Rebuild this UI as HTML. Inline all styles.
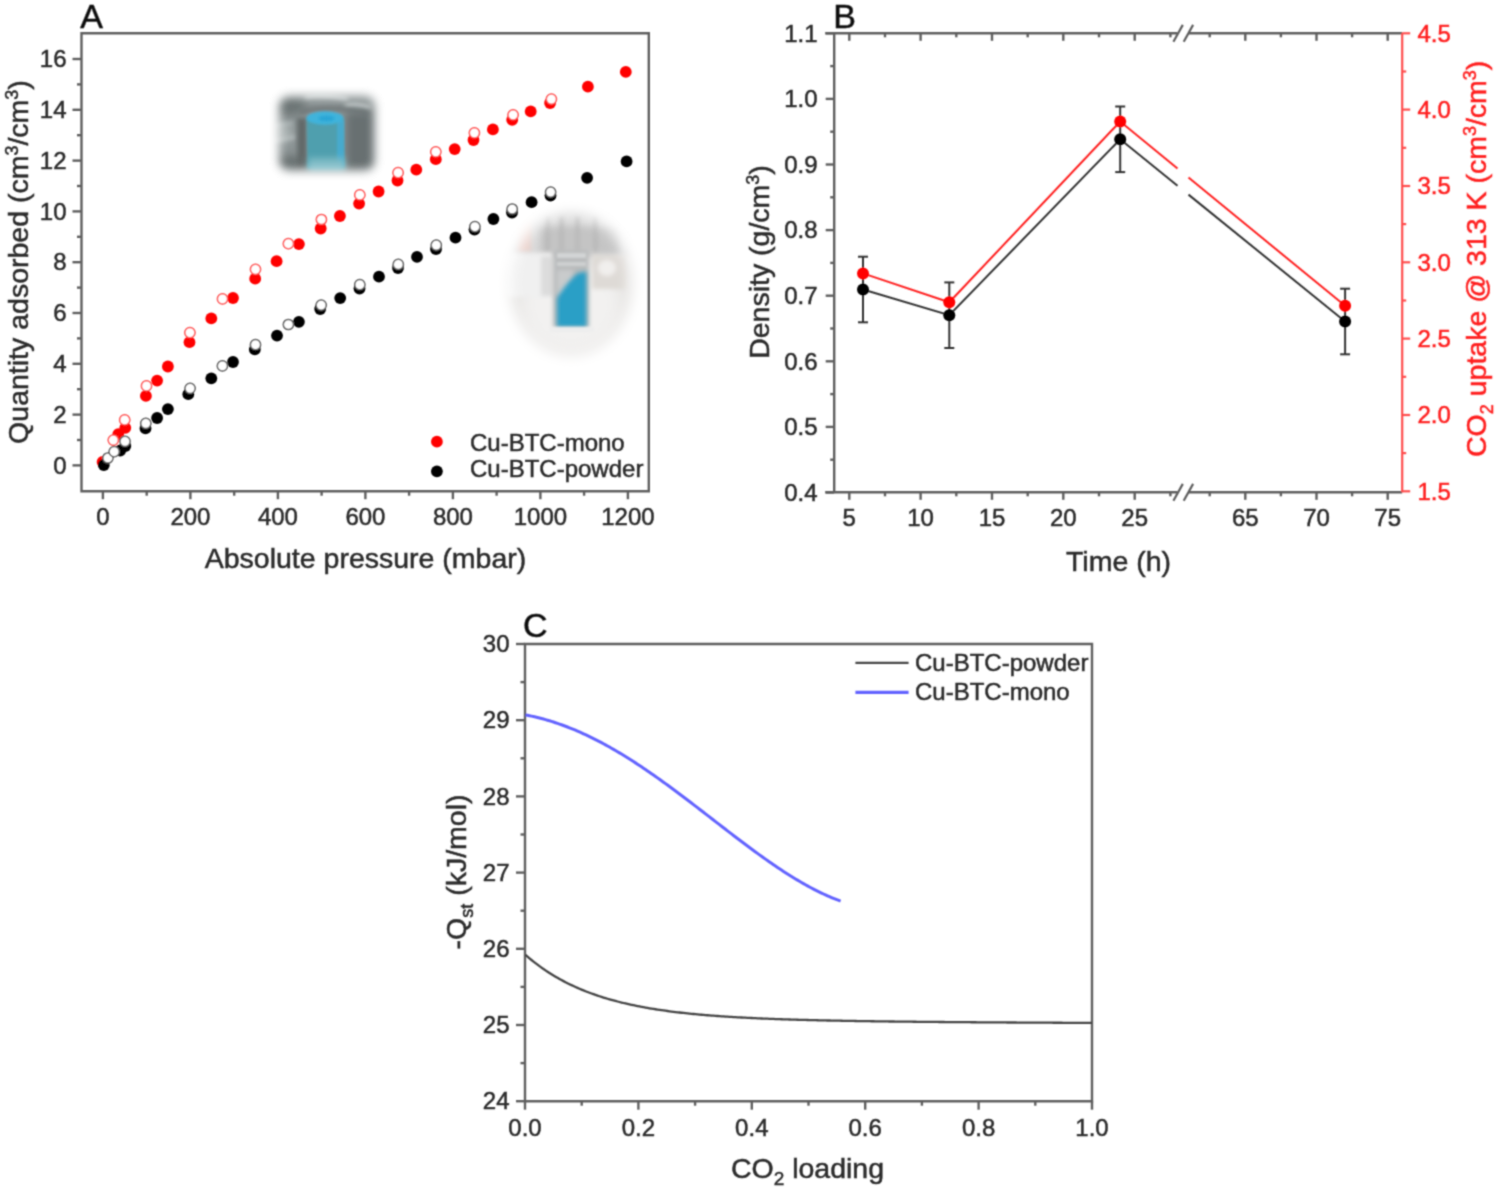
<!DOCTYPE html>
<html><head><meta charset="utf-8"><title>Figure</title>
<style>
html,body{margin:0;padding:0;background:#fff;}
body{width:1495px;height:1189px;overflow:hidden;}
svg{display:block;font-family:"Liberation Sans",sans-serif;}
</style></head>
<body>
<svg width="1495" height="1189" viewBox="0 0 1495 1189">
<defs><filter id="gb" filterUnits="userSpaceOnUse" x="0" y="0" width="1495" height="1189"><feConvolveMatrix order="3" kernelMatrix="0.04387 0.12171 0.04387 0.12171 0.33767 0.12171 0.04387 0.12171 0.04387" divisor="1" edgeMode="duplicate" preserveAlpha="false"/></filter></defs>
<rect width="1495" height="1189" fill="#fff"/>
<g filter="url(#gb)">
<path d="M81.5,33.2 H648.8 V491.2 H81.5 Z" fill="none" stroke="#5f5f5f" stroke-width="2.4" stroke-linejoin="miter"/>
<line x1="102.9" y1="491.2" x2="102.9" y2="499.2" stroke="#5f5f5f" stroke-width="2.4" />
<text x="102.9" y="525.4" font-size="24" text-anchor="middle" fill="#2b2b2b" stroke="#2b2b2b" stroke-width="0.5" >0</text>
<line x1="146.7" y1="491.2" x2="146.7" y2="495.7" stroke="#5f5f5f" stroke-width="2.4" />
<line x1="190.4" y1="491.2" x2="190.4" y2="499.2" stroke="#5f5f5f" stroke-width="2.4" />
<text x="190.4" y="525.4" font-size="24" text-anchor="middle" fill="#2b2b2b" stroke="#2b2b2b" stroke-width="0.5" >200</text>
<line x1="234.2" y1="491.2" x2="234.2" y2="495.7" stroke="#5f5f5f" stroke-width="2.4" />
<line x1="277.9" y1="491.2" x2="277.9" y2="499.2" stroke="#5f5f5f" stroke-width="2.4" />
<text x="277.9" y="525.4" font-size="24" text-anchor="middle" fill="#2b2b2b" stroke="#2b2b2b" stroke-width="0.5" >400</text>
<line x1="321.6" y1="491.2" x2="321.6" y2="495.7" stroke="#5f5f5f" stroke-width="2.4" />
<line x1="365.4" y1="491.2" x2="365.4" y2="499.2" stroke="#5f5f5f" stroke-width="2.4" />
<text x="365.4" y="525.4" font-size="24" text-anchor="middle" fill="#2b2b2b" stroke="#2b2b2b" stroke-width="0.5" >600</text>
<line x1="409.1" y1="491.2" x2="409.1" y2="495.7" stroke="#5f5f5f" stroke-width="2.4" />
<line x1="452.9" y1="491.2" x2="452.9" y2="499.2" stroke="#5f5f5f" stroke-width="2.4" />
<text x="452.9" y="525.4" font-size="24" text-anchor="middle" fill="#2b2b2b" stroke="#2b2b2b" stroke-width="0.5" >800</text>
<line x1="496.6" y1="491.2" x2="496.6" y2="495.7" stroke="#5f5f5f" stroke-width="2.4" />
<line x1="540.4" y1="491.2" x2="540.4" y2="499.2" stroke="#5f5f5f" stroke-width="2.4" />
<text x="540.4" y="525.4" font-size="24" text-anchor="middle" fill="#2b2b2b" stroke="#2b2b2b" stroke-width="0.5" >1000</text>
<line x1="584.1" y1="491.2" x2="584.1" y2="495.7" stroke="#5f5f5f" stroke-width="2.4" />
<line x1="627.9" y1="491.2" x2="627.9" y2="499.2" stroke="#5f5f5f" stroke-width="2.4" />
<text x="627.9" y="525.4" font-size="24" text-anchor="middle" fill="#2b2b2b" stroke="#2b2b2b" stroke-width="0.5" >1200</text>
<line x1="72.5" y1="465.4" x2="81.5" y2="465.4" stroke="#5f5f5f" stroke-width="2.4" />
<text x="66.5" y="473.6" font-size="24" text-anchor="end" fill="#2b2b2b" stroke="#2b2b2b" stroke-width="0.5" >0</text>
<line x1="77.0" y1="440.0" x2="81.5" y2="440.0" stroke="#5f5f5f" stroke-width="2.4" />
<line x1="72.5" y1="414.6" x2="81.5" y2="414.6" stroke="#5f5f5f" stroke-width="2.4" />
<text x="66.5" y="422.8" font-size="24" text-anchor="end" fill="#2b2b2b" stroke="#2b2b2b" stroke-width="0.5" >2</text>
<line x1="77.0" y1="389.2" x2="81.5" y2="389.2" stroke="#5f5f5f" stroke-width="2.4" />
<line x1="72.5" y1="363.8" x2="81.5" y2="363.8" stroke="#5f5f5f" stroke-width="2.4" />
<text x="66.5" y="372.0" font-size="24" text-anchor="end" fill="#2b2b2b" stroke="#2b2b2b" stroke-width="0.5" >4</text>
<line x1="77.0" y1="338.4" x2="81.5" y2="338.4" stroke="#5f5f5f" stroke-width="2.4" />
<line x1="72.5" y1="313.0" x2="81.5" y2="313.0" stroke="#5f5f5f" stroke-width="2.4" />
<text x="66.5" y="321.2" font-size="24" text-anchor="end" fill="#2b2b2b" stroke="#2b2b2b" stroke-width="0.5" >6</text>
<line x1="77.0" y1="287.6" x2="81.5" y2="287.6" stroke="#5f5f5f" stroke-width="2.4" />
<line x1="72.5" y1="262.2" x2="81.5" y2="262.2" stroke="#5f5f5f" stroke-width="2.4" />
<text x="66.5" y="270.4" font-size="24" text-anchor="end" fill="#2b2b2b" stroke="#2b2b2b" stroke-width="0.5" >8</text>
<line x1="77.0" y1="236.8" x2="81.5" y2="236.8" stroke="#5f5f5f" stroke-width="2.4" />
<line x1="72.5" y1="211.4" x2="81.5" y2="211.4" stroke="#5f5f5f" stroke-width="2.4" />
<text x="66.5" y="219.6" font-size="24" text-anchor="end" fill="#2b2b2b" stroke="#2b2b2b" stroke-width="0.5" >10</text>
<line x1="77.0" y1="186.0" x2="81.5" y2="186.0" stroke="#5f5f5f" stroke-width="2.4" />
<line x1="72.5" y1="160.6" x2="81.5" y2="160.6" stroke="#5f5f5f" stroke-width="2.4" />
<text x="66.5" y="168.8" font-size="24" text-anchor="end" fill="#2b2b2b" stroke="#2b2b2b" stroke-width="0.5" >12</text>
<line x1="77.0" y1="135.2" x2="81.5" y2="135.2" stroke="#5f5f5f" stroke-width="2.4" />
<line x1="72.5" y1="109.8" x2="81.5" y2="109.8" stroke="#5f5f5f" stroke-width="2.4" />
<text x="66.5" y="118.0" font-size="24" text-anchor="end" fill="#2b2b2b" stroke="#2b2b2b" stroke-width="0.5" >14</text>
<line x1="77.0" y1="84.4" x2="81.5" y2="84.4" stroke="#5f5f5f" stroke-width="2.4" />
<line x1="72.5" y1="59.0" x2="81.5" y2="59.0" stroke="#5f5f5f" stroke-width="2.4" />
<text x="66.5" y="67.2" font-size="24" text-anchor="end" fill="#2b2b2b" stroke="#2b2b2b" stroke-width="0.5" >16</text>
<text x="365.5" y="567.6" font-size="28.5" text-anchor="middle" fill="#2b2b2b" stroke="#2b2b2b" stroke-width="0.5" >Absolute pressure (mbar)</text>
<text transform="translate(28.3,262) rotate(-90)" font-size="28.5" text-anchor="middle" fill="#2b2b2b" stroke="#2b2b2b" stroke-width="0.5">Quantity adsorbed (cm<tspan dy="-10" font-size="18">3</tspan><tspan dy="10">/cm</tspan><tspan dy="-10" font-size="18">3</tspan><tspan dy="10">)</tspan></text>
<text x="80.3" y="27.5" font-size="34" text-anchor="start" fill="#111" stroke="#111" stroke-width="0.5" >A</text>
<defs><filter id="b1" filterUnits="userSpaceOnUse" x="200" y="50" width="500" height="360"><feGaussianBlur stdDeviation="4"/></filter><filter id="b2" filterUnits="userSpaceOnUse" x="200" y="50" width="500" height="360"><feGaussianBlur stdDeviation="2"/></filter><filter id="b3" filterUnits="userSpaceOnUse" x="200" y="50" width="500" height="360"><feGaussianBlur stdDeviation="1.1"/></filter><filter id="b4" filterUnits="userSpaceOnUse" x="200" y="50" width="500" height="360"><feGaussianBlur stdDeviation="9"/></filter><filter id="b5" filterUnits="userSpaceOnUse" x="200" y="50" width="500" height="360"><feGaussianBlur stdDeviation="3"/></filter><filter id="b6" filterUnits="userSpaceOnUse" x="200" y="50" width="500" height="360"><feGaussianBlur stdDeviation="7"/></filter><filter id="b7" filterUnits="userSpaceOnUse" x="200" y="50" width="500" height="360"><feGaussianBlur stdDeviation="5"/></filter><mask id="m1" maskUnits="userSpaceOnUse" x="250" y="70" width="150" height="130"><rect x="279" y="96" width="96" height="75" rx="10" fill="#fff" filter="url(#b7)"/></mask><mask id="m2" maskUnits="userSpaceOnUse" x="480" y="190" width="180" height="190"><ellipse cx="571" cy="284" rx="60" ry="70" fill="#fff" filter="url(#b6)"/></mask></defs>
<g mask="url(#m1)">
<rect x="265" y="85" width="120" height="95" fill="#8b9394"/>
<ellipse cx="290" cy="106" rx="16" ry="9" fill="#6c7474" filter="url(#b1)"/>
<ellipse cx="292" cy="163" rx="20" ry="7" fill="#687070" filter="url(#b1)"/>
<ellipse cx="283" cy="133" rx="10" ry="10" fill="#aab2b2" filter="url(#b1)"/>
<path d="M272,141 L296,137" stroke="#c8d0d0" stroke-width="2" filter="url(#b2)"/>
<path d="M274,126 L293,123" stroke="#c0c8c8" stroke-width="2" filter="url(#b2)"/>
<path d="M305,97 Q325,94 348,99" stroke="#c8d0d0" stroke-width="3" fill="none" filter="url(#b2)"/>
<path d="M345,106 Q358,103 370,108" stroke="#dce2e2" stroke-width="2.5" fill="none" filter="url(#b2)"/>
<path d="M300,112 Q330,104 372,114" stroke="#6d7576" stroke-width="4" fill="none" filter="url(#b2)"/>
<rect x="297" y="118" width="10" height="48" fill="#636b6b" filter="url(#b2)"/>
<rect x="346" y="112" width="30" height="58" fill="#687071" filter="url(#b1)"/>
<path d="M306.5,118 L343.5,118 L344.5,169 L307.5,169 Z" fill="#4f9fae" filter="url(#b3)"/>
<rect x="337" y="120" width="7" height="46" fill="#47aace" filter="url(#b3)"/>
<rect x="308" y="158" width="37" height="14" fill="#7fbcc6" filter="url(#b5)"/>
<ellipse cx="325" cy="118" rx="18.5" ry="6.8" fill="#40b3db" filter="url(#b3)"/>
<ellipse cx="326.5" cy="118.5" rx="8" ry="3" fill="#2aa6d6" filter="url(#b3)"/>
</g>
<g mask="url(#m2)">
<rect x="490" y="200" width="160" height="170" fill="#e3e1df"/>
<ellipse cx="571" cy="305" rx="50" ry="48" fill="#f2f1f0" filter="url(#b6)"/>
<rect x="512" y="206" width="120" height="50" fill="#d9d9d9" filter="url(#b2)"/>
<rect x="540" y="226" width="80" height="28" fill="#c4c4c4" filter="url(#b5)"/>
<rect x="546" y="216" width="3" height="36" fill="#b4b4b4" filter="url(#b2)"/>
<rect x="560" y="216" width="3" height="36" fill="#b4b4b4" filter="url(#b2)"/>
<rect x="576" y="216" width="3" height="36" fill="#b6b6b6" filter="url(#b2)"/>
<rect x="594" y="216" width="3" height="36" fill="#b4b4b4" filter="url(#b2)"/>
<rect x="517" y="218" width="14" height="34" fill="#e8cfc9" filter="url(#b2)"/>
<rect x="505" y="253" width="50" height="44" rx="6" fill="#f0f0f0" filter="url(#b2)"/>
<rect x="541" y="256" width="13" height="40" fill="#dcdcdc" filter="url(#b2)"/>
<rect x="592" y="255" width="34" height="34" fill="#dedad6" filter="url(#b2)"/>
<ellipse cx="607" cy="268" rx="9" ry="8" fill="#f1efed" filter="url(#b2)"/>
<rect x="553" y="250" width="36" height="78" rx="2" fill="#b9bbbc" filter="url(#b2)"/>
<rect x="557" y="253" width="29" height="5" fill="#d3d5d6" filter="url(#b3)"/>
<rect x="557" y="262" width="29" height="4" fill="#cfd1d2" filter="url(#b3)"/>
<rect x="557" y="270" width="16" height="26" fill="#c9cbcc" filter="url(#b2)"/>
<path d="M557,298 C562,290 570,279 578,273 L586.5,271.5 L586.5,327 L557,327 Z" fill="#2a9fc6" filter="url(#b2)"/>
<rect x="550" y="327" width="44" height="5" fill="#eeeeee" filter="url(#b3)"/>
</g>
<circle cx="102.6" cy="462" r="5.9" fill="#ff0000"/>
<circle cx="118.3" cy="434.1" r="5.9" fill="#ff0000"/>
<circle cx="125.3" cy="427.8" r="5.9" fill="#ff0000"/>
<circle cx="145.9" cy="395.9" r="5.9" fill="#ff0000"/>
<circle cx="157.1" cy="380.6" r="5.9" fill="#ff0000"/>
<circle cx="167.9" cy="366.5" r="5.9" fill="#ff0000"/>
<circle cx="189.5" cy="342.2" r="5.9" fill="#ff0000"/>
<circle cx="211.3" cy="318.4" r="5.9" fill="#ff0000"/>
<circle cx="233" cy="298" r="5.9" fill="#ff0000"/>
<circle cx="255.2" cy="278.7" r="5.9" fill="#ff0000"/>
<circle cx="276.6" cy="261.2" r="5.9" fill="#ff0000"/>
<circle cx="298.9" cy="244.1" r="5.9" fill="#ff0000"/>
<circle cx="320.7" cy="228.5" r="5.9" fill="#ff0000"/>
<circle cx="339.9" cy="216" r="5.9" fill="#ff0000"/>
<circle cx="359.1" cy="203.6" r="5.9" fill="#ff0000"/>
<circle cx="378.6" cy="191.5" r="5.9" fill="#ff0000"/>
<circle cx="397.5" cy="180.5" r="5.9" fill="#ff0000"/>
<circle cx="416.3" cy="169.7" r="5.9" fill="#ff0000"/>
<circle cx="435.8" cy="159.2" r="5.9" fill="#ff0000"/>
<circle cx="454.7" cy="149.1" r="5.9" fill="#ff0000"/>
<circle cx="473.5" cy="140" r="5.9" fill="#ff0000"/>
<circle cx="492.9" cy="129.4" r="5.9" fill="#ff0000"/>
<circle cx="512.2" cy="119.8" r="5.9" fill="#ff0000"/>
<circle cx="530.7" cy="111.4" r="5.9" fill="#ff0000"/>
<circle cx="550.1" cy="103" r="5.9" fill="#ff0000"/>
<circle cx="587.9" cy="86.7" r="5.9" fill="#ff0000"/>
<circle cx="625.8" cy="71.9" r="5.9" fill="#ff0000"/>
<circle cx="103.8" cy="465" r="5.9" fill="#000"/>
<circle cx="120.2" cy="450.5" r="5.9" fill="#000"/>
<circle cx="125.3" cy="446" r="5.9" fill="#000"/>
<circle cx="145.5" cy="428.4" r="5.9" fill="#000"/>
<circle cx="157.1" cy="418" r="5.9" fill="#000"/>
<circle cx="167.9" cy="409.1" r="5.9" fill="#000"/>
<circle cx="188.3" cy="394.2" r="5.9" fill="#000"/>
<circle cx="211.3" cy="378.3" r="5.9" fill="#000"/>
<circle cx="233" cy="362" r="5.9" fill="#000"/>
<circle cx="254.8" cy="349.4" r="5.9" fill="#000"/>
<circle cx="277" cy="335.6" r="5.9" fill="#000"/>
<circle cx="298.9" cy="321.8" r="5.9" fill="#000"/>
<circle cx="320.2" cy="309" r="5.9" fill="#000"/>
<circle cx="340.2" cy="298.1" r="5.9" fill="#000"/>
<circle cx="359.5" cy="288.5" r="5.9" fill="#000"/>
<circle cx="379" cy="276.7" r="5.9" fill="#000"/>
<circle cx="398" cy="268" r="5.9" fill="#000"/>
<circle cx="417" cy="256.9" r="5.9" fill="#000"/>
<circle cx="436" cy="249" r="5.9" fill="#000"/>
<circle cx="455.5" cy="237.7" r="5.9" fill="#000"/>
<circle cx="474.5" cy="229.5" r="5.9" fill="#000"/>
<circle cx="493.4" cy="219" r="5.9" fill="#000"/>
<circle cx="512" cy="212.5" r="5.9" fill="#000"/>
<circle cx="531.6" cy="202.2" r="5.9" fill="#000"/>
<circle cx="550.5" cy="195.5" r="5.9" fill="#000"/>
<circle cx="587.1" cy="177.8" r="5.9" fill="#000"/>
<circle cx="626.6" cy="161.4" r="5.9" fill="#000"/>
<circle cx="113.3" cy="440.1" r="5.1000000000000005" fill="#fff" stroke="#ff4a4a" stroke-width="1.5"/>
<circle cx="124.7" cy="419.9" r="5.1000000000000005" fill="#fff" stroke="#ff4a4a" stroke-width="1.5"/>
<circle cx="146.5" cy="385.9" r="5.1000000000000005" fill="#fff" stroke="#ff4a4a" stroke-width="1.5"/>
<circle cx="189.9" cy="332.6" r="5.1000000000000005" fill="#fff" stroke="#ff4a4a" stroke-width="1.5"/>
<circle cx="222.5" cy="298.9" r="5.1000000000000005" fill="#fff" stroke="#ff4a4a" stroke-width="1.5"/>
<circle cx="255.5" cy="269.3" r="5.1000000000000005" fill="#fff" stroke="#ff4a4a" stroke-width="1.5"/>
<circle cx="288.4" cy="243.7" r="5.1000000000000005" fill="#fff" stroke="#ff4a4a" stroke-width="1.5"/>
<circle cx="321.4" cy="219.5" r="5.1000000000000005" fill="#fff" stroke="#ff4a4a" stroke-width="1.5"/>
<circle cx="359.8" cy="194.9" r="5.1000000000000005" fill="#fff" stroke="#ff4a4a" stroke-width="1.5"/>
<circle cx="398.1" cy="172.7" r="5.1000000000000005" fill="#fff" stroke="#ff4a4a" stroke-width="1.5"/>
<circle cx="435.8" cy="151.8" r="5.1000000000000005" fill="#fff" stroke="#ff4a4a" stroke-width="1.5"/>
<circle cx="474.4" cy="132.8" r="5.1000000000000005" fill="#fff" stroke="#ff4a4a" stroke-width="1.5"/>
<circle cx="513.1" cy="114.8" r="5.1000000000000005" fill="#fff" stroke="#ff4a4a" stroke-width="1.5"/>
<circle cx="551.4" cy="99.1" r="5.1000000000000005" fill="#fff" stroke="#ff4a4a" stroke-width="1.5"/>
<circle cx="107.9" cy="458" r="5.1000000000000005" fill="#fff" stroke="#5a5a5a" stroke-width="1.5"/>
<circle cx="114.2" cy="451.7" r="5.1000000000000005" fill="#fff" stroke="#5a5a5a" stroke-width="1.5"/>
<circle cx="125" cy="441.3" r="5.1000000000000005" fill="#fff" stroke="#5a5a5a" stroke-width="1.5"/>
<circle cx="145.8" cy="423.3" r="5.1000000000000005" fill="#fff" stroke="#5a5a5a" stroke-width="1.5"/>
<circle cx="190.1" cy="388.3" r="5.1000000000000005" fill="#fff" stroke="#5a5a5a" stroke-width="1.5"/>
<circle cx="222.4" cy="365.9" r="5.1000000000000005" fill="#fff" stroke="#5a5a5a" stroke-width="1.5"/>
<circle cx="255.5" cy="344.7" r="5.1000000000000005" fill="#fff" stroke="#5a5a5a" stroke-width="1.5"/>
<circle cx="288.4" cy="324.5" r="5.1000000000000005" fill="#fff" stroke="#5a5a5a" stroke-width="1.5"/>
<circle cx="321.2" cy="305.1" r="5.1000000000000005" fill="#fff" stroke="#5a5a5a" stroke-width="1.5"/>
<circle cx="359.8" cy="284.7" r="5.1000000000000005" fill="#fff" stroke="#5a5a5a" stroke-width="1.5"/>
<circle cx="398.3" cy="264.4" r="5.1000000000000005" fill="#fff" stroke="#5a5a5a" stroke-width="1.5"/>
<circle cx="436.3" cy="245.1" r="5.1000000000000005" fill="#fff" stroke="#5a5a5a" stroke-width="1.5"/>
<circle cx="474.9" cy="226.6" r="5.1000000000000005" fill="#fff" stroke="#5a5a5a" stroke-width="1.5"/>
<circle cx="512.2" cy="209" r="5.1000000000000005" fill="#fff" stroke="#5a5a5a" stroke-width="1.5"/>
<circle cx="550.6" cy="192.1" r="5.1000000000000005" fill="#fff" stroke="#5a5a5a" stroke-width="1.5"/>
<circle cx="436.9" cy="441.7" r="5.9" fill="#ff0000"/>
<circle cx="436.9" cy="471.3" r="5.9" fill="#000"/>
<text x="470.0" y="451.0" font-size="24" text-anchor="start" fill="#2b2b2b" stroke="#2b2b2b" stroke-width="0.5" >Cu-BTC-mono</text>
<text x="470.0" y="477.4" font-size="24" text-anchor="start" fill="#2b2b2b" stroke="#2b2b2b" stroke-width="0.5" >Cu-BTC-powder</text>
<line x1="834.2" y1="33.3" x2="834.2" y2="492.3" stroke="#5f5f5f" stroke-width="2.4" />
<line x1="825.2" y1="33.3" x2="1177.5" y2="33.3" stroke="#5f5f5f" stroke-width="2.4" />
<line x1="1188.5" y1="33.3" x2="1402.2" y2="33.3" stroke="#5f5f5f" stroke-width="2.4" />
<line x1="825.2" y1="492.3" x2="1177.5" y2="492.3" stroke="#5f5f5f" stroke-width="2.4" />
<line x1="1188.5" y1="492.3" x2="1402.2" y2="492.3" stroke="#5f5f5f" stroke-width="2.4" />
<line x1="1402.2" y1="33.3" x2="1402.2" y2="492.3" stroke="#ff4d4d" stroke-width="2.2" />
<line x1="1173.4" y1="41.7" x2="1182.8" y2="24.9" stroke="#5f5f5f" stroke-width="2.2" />
<line x1="1183.7" y1="41.7" x2="1193.1" y2="24.9" stroke="#5f5f5f" stroke-width="2.2" />
<line x1="1173.4" y1="500.7" x2="1182.8" y2="483.9" stroke="#5f5f5f" stroke-width="2.2" />
<line x1="1183.7" y1="500.7" x2="1193.1" y2="483.9" stroke="#5f5f5f" stroke-width="2.2" />
<line x1="849.3" y1="492.3" x2="849.3" y2="499.8" stroke="#5f5f5f" stroke-width="2.4" />
<line x1="849.3" y1="33.3" x2="849.3" y2="40.8" stroke="#5f5f5f" stroke-width="2.4" />
<text x="849.3" y="526.3" font-size="24" text-anchor="middle" fill="#2b2b2b" stroke="#2b2b2b" stroke-width="0.5" >5</text>
<line x1="885.0" y1="492.3" x2="885.0" y2="496.3" stroke="#5f5f5f" stroke-width="2.4" />
<line x1="885.0" y1="33.3" x2="885.0" y2="37.3" stroke="#5f5f5f" stroke-width="2.4" />
<line x1="920.6" y1="492.3" x2="920.6" y2="499.8" stroke="#5f5f5f" stroke-width="2.4" />
<line x1="920.6" y1="33.3" x2="920.6" y2="40.8" stroke="#5f5f5f" stroke-width="2.4" />
<text x="920.6" y="526.3" font-size="24" text-anchor="middle" fill="#2b2b2b" stroke="#2b2b2b" stroke-width="0.5" >10</text>
<line x1="956.3" y1="492.3" x2="956.3" y2="496.3" stroke="#5f5f5f" stroke-width="2.4" />
<line x1="956.3" y1="33.3" x2="956.3" y2="37.3" stroke="#5f5f5f" stroke-width="2.4" />
<line x1="992.0" y1="492.3" x2="992.0" y2="499.8" stroke="#5f5f5f" stroke-width="2.4" />
<line x1="992.0" y1="33.3" x2="992.0" y2="40.8" stroke="#5f5f5f" stroke-width="2.4" />
<text x="992.0" y="526.3" font-size="24" text-anchor="middle" fill="#2b2b2b" stroke="#2b2b2b" stroke-width="0.5" >15</text>
<line x1="1027.7" y1="492.3" x2="1027.7" y2="496.3" stroke="#5f5f5f" stroke-width="2.4" />
<line x1="1027.7" y1="33.3" x2="1027.7" y2="37.3" stroke="#5f5f5f" stroke-width="2.4" />
<line x1="1063.3" y1="492.3" x2="1063.3" y2="499.8" stroke="#5f5f5f" stroke-width="2.4" />
<line x1="1063.3" y1="33.3" x2="1063.3" y2="40.8" stroke="#5f5f5f" stroke-width="2.4" />
<text x="1063.3" y="526.3" font-size="24" text-anchor="middle" fill="#2b2b2b" stroke="#2b2b2b" stroke-width="0.5" >20</text>
<line x1="1099.0" y1="492.3" x2="1099.0" y2="496.3" stroke="#5f5f5f" stroke-width="2.4" />
<line x1="1099.0" y1="33.3" x2="1099.0" y2="37.3" stroke="#5f5f5f" stroke-width="2.4" />
<line x1="1134.7" y1="492.3" x2="1134.7" y2="499.8" stroke="#5f5f5f" stroke-width="2.4" />
<line x1="1134.7" y1="33.3" x2="1134.7" y2="40.8" stroke="#5f5f5f" stroke-width="2.4" />
<text x="1134.7" y="526.3" font-size="24" text-anchor="middle" fill="#2b2b2b" stroke="#2b2b2b" stroke-width="0.5" >25</text>
<line x1="1170.4" y1="492.3" x2="1170.4" y2="496.3" stroke="#5f5f5f" stroke-width="2.4" />
<line x1="1170.4" y1="33.3" x2="1170.4" y2="37.3" stroke="#5f5f5f" stroke-width="2.4" />
<line x1="1209.7" y1="492.3" x2="1209.7" y2="496.3" stroke="#5f5f5f" stroke-width="2.4" />
<line x1="1209.7" y1="33.3" x2="1209.7" y2="37.3" stroke="#5f5f5f" stroke-width="2.4" />
<line x1="1245.3" y1="492.3" x2="1245.3" y2="499.8" stroke="#5f5f5f" stroke-width="2.4" />
<line x1="1245.3" y1="33.3" x2="1245.3" y2="40.8" stroke="#5f5f5f" stroke-width="2.4" />
<text x="1245.3" y="526.3" font-size="24" text-anchor="middle" fill="#2b2b2b" stroke="#2b2b2b" stroke-width="0.5" >65</text>
<line x1="1280.9" y1="492.3" x2="1280.9" y2="496.3" stroke="#5f5f5f" stroke-width="2.4" />
<line x1="1280.9" y1="33.3" x2="1280.9" y2="37.3" stroke="#5f5f5f" stroke-width="2.4" />
<line x1="1316.5" y1="492.3" x2="1316.5" y2="499.8" stroke="#5f5f5f" stroke-width="2.4" />
<line x1="1316.5" y1="33.3" x2="1316.5" y2="40.8" stroke="#5f5f5f" stroke-width="2.4" />
<text x="1316.5" y="526.3" font-size="24" text-anchor="middle" fill="#2b2b2b" stroke="#2b2b2b" stroke-width="0.5" >70</text>
<line x1="1352.1" y1="492.3" x2="1352.1" y2="496.3" stroke="#5f5f5f" stroke-width="2.4" />
<line x1="1352.1" y1="33.3" x2="1352.1" y2="37.3" stroke="#5f5f5f" stroke-width="2.4" />
<line x1="1387.7" y1="492.3" x2="1387.7" y2="499.8" stroke="#5f5f5f" stroke-width="2.4" />
<line x1="1387.7" y1="33.3" x2="1387.7" y2="40.8" stroke="#5f5f5f" stroke-width="2.4" />
<text x="1387.7" y="526.3" font-size="24" text-anchor="middle" fill="#2b2b2b" stroke="#2b2b2b" stroke-width="0.5" >75</text>
<line x1="825.7" y1="492.5" x2="834.2" y2="492.5" stroke="#5f5f5f" stroke-width="2.4" />
<text x="817.5" y="500.7" font-size="24" text-anchor="end" fill="#2b2b2b" stroke="#2b2b2b" stroke-width="0.5" >0.4</text>
<line x1="830.2" y1="459.7" x2="834.2" y2="459.7" stroke="#5f5f5f" stroke-width="2.4" />
<line x1="825.7" y1="426.9" x2="834.2" y2="426.9" stroke="#5f5f5f" stroke-width="2.4" />
<text x="817.5" y="435.1" font-size="24" text-anchor="end" fill="#2b2b2b" stroke="#2b2b2b" stroke-width="0.5" >0.5</text>
<line x1="830.2" y1="394.1" x2="834.2" y2="394.1" stroke="#5f5f5f" stroke-width="2.4" />
<line x1="825.7" y1="361.3" x2="834.2" y2="361.3" stroke="#5f5f5f" stroke-width="2.4" />
<text x="817.5" y="369.5" font-size="24" text-anchor="end" fill="#2b2b2b" stroke="#2b2b2b" stroke-width="0.5" >0.6</text>
<line x1="830.2" y1="328.5" x2="834.2" y2="328.5" stroke="#5f5f5f" stroke-width="2.4" />
<line x1="825.7" y1="295.7" x2="834.2" y2="295.7" stroke="#5f5f5f" stroke-width="2.4" />
<text x="817.5" y="303.9" font-size="24" text-anchor="end" fill="#2b2b2b" stroke="#2b2b2b" stroke-width="0.5" >0.7</text>
<line x1="830.2" y1="262.9" x2="834.2" y2="262.9" stroke="#5f5f5f" stroke-width="2.4" />
<line x1="825.7" y1="230.1" x2="834.2" y2="230.1" stroke="#5f5f5f" stroke-width="2.4" />
<text x="817.5" y="238.3" font-size="24" text-anchor="end" fill="#2b2b2b" stroke="#2b2b2b" stroke-width="0.5" >0.8</text>
<line x1="830.2" y1="197.3" x2="834.2" y2="197.3" stroke="#5f5f5f" stroke-width="2.4" />
<line x1="825.7" y1="164.5" x2="834.2" y2="164.5" stroke="#5f5f5f" stroke-width="2.4" />
<text x="817.5" y="172.7" font-size="24" text-anchor="end" fill="#2b2b2b" stroke="#2b2b2b" stroke-width="0.5" >0.9</text>
<line x1="830.2" y1="131.7" x2="834.2" y2="131.7" stroke="#5f5f5f" stroke-width="2.4" />
<line x1="825.7" y1="98.9" x2="834.2" y2="98.9" stroke="#5f5f5f" stroke-width="2.4" />
<text x="817.5" y="107.1" font-size="24" text-anchor="end" fill="#2b2b2b" stroke="#2b2b2b" stroke-width="0.5" >1.0</text>
<line x1="830.2" y1="66.1" x2="834.2" y2="66.1" stroke="#5f5f5f" stroke-width="2.4" />
<line x1="825.7" y1="33.3" x2="834.2" y2="33.3" stroke="#5f5f5f" stroke-width="2.4" />
<text x="817.5" y="41.5" font-size="24" text-anchor="end" fill="#2b2b2b" stroke="#2b2b2b" stroke-width="0.5" >1.1</text>
<line x1="1402.2" y1="491.3" x2="1410.2" y2="491.3" stroke="#ff4d4d" stroke-width="2.2" />
<text x="1417.5" y="499.5" font-size="24" text-anchor="start" fill="#ff1f1f" stroke="#ff1f1f" stroke-width="0.5" >1.5</text>
<line x1="1402.2" y1="453.1" x2="1406.2" y2="453.1" stroke="#ff4d4d" stroke-width="2.2" />
<line x1="1402.2" y1="415.0" x2="1410.2" y2="415.0" stroke="#ff4d4d" stroke-width="2.2" />
<text x="1417.5" y="423.2" font-size="24" text-anchor="start" fill="#ff1f1f" stroke="#ff1f1f" stroke-width="0.5" >2.0</text>
<line x1="1402.2" y1="376.8" x2="1406.2" y2="376.8" stroke="#ff4d4d" stroke-width="2.2" />
<line x1="1402.2" y1="338.6" x2="1410.2" y2="338.6" stroke="#ff4d4d" stroke-width="2.2" />
<text x="1417.5" y="346.8" font-size="24" text-anchor="start" fill="#ff1f1f" stroke="#ff1f1f" stroke-width="0.5" >2.5</text>
<line x1="1402.2" y1="300.5" x2="1406.2" y2="300.5" stroke="#ff4d4d" stroke-width="2.2" />
<line x1="1402.2" y1="262.3" x2="1410.2" y2="262.3" stroke="#ff4d4d" stroke-width="2.2" />
<text x="1417.5" y="270.5" font-size="24" text-anchor="start" fill="#ff1f1f" stroke="#ff1f1f" stroke-width="0.5" >3.0</text>
<line x1="1402.2" y1="224.1" x2="1406.2" y2="224.1" stroke="#ff4d4d" stroke-width="2.2" />
<line x1="1402.2" y1="186.0" x2="1410.2" y2="186.0" stroke="#ff4d4d" stroke-width="2.2" />
<text x="1417.5" y="194.2" font-size="24" text-anchor="start" fill="#ff1f1f" stroke="#ff1f1f" stroke-width="0.5" >3.5</text>
<line x1="1402.2" y1="147.8" x2="1406.2" y2="147.8" stroke="#ff4d4d" stroke-width="2.2" />
<line x1="1402.2" y1="109.6" x2="1410.2" y2="109.6" stroke="#ff4d4d" stroke-width="2.2" />
<text x="1417.5" y="117.8" font-size="24" text-anchor="start" fill="#ff1f1f" stroke="#ff1f1f" stroke-width="0.5" >4.0</text>
<line x1="1402.2" y1="71.5" x2="1406.2" y2="71.5" stroke="#ff4d4d" stroke-width="2.2" />
<line x1="1402.2" y1="33.3" x2="1410.2" y2="33.3" stroke="#ff4d4d" stroke-width="2.2" />
<text x="1417.5" y="41.5" font-size="24" text-anchor="start" fill="#ff1f1f" stroke="#ff1f1f" stroke-width="0.5" >4.5</text>
<text x="1118.5" y="570.7" font-size="28.5" text-anchor="middle" fill="#2b2b2b" stroke="#2b2b2b" stroke-width="0.5" >Time (h)</text>
<text transform="translate(769.4,262) rotate(-90)" font-size="28.5" text-anchor="middle" fill="#2b2b2b" stroke="#2b2b2b" stroke-width="0.5">Density (g/cm<tspan dy="-10" font-size="18">3</tspan><tspan dy="10">)</tspan></text>
<text transform="translate(1485.5,258.8) rotate(-90)" font-size="28.5" text-anchor="middle" fill="#ff1f1f" stroke="#ff1f1f" stroke-width="0.5">CO<tspan dy="7" font-size="18">2</tspan><tspan dy="-7"> uptake @ 313 K (cm</tspan><tspan dy="-10" font-size="18">3</tspan><tspan dy="10">/cm</tspan><tspan dy="-10" font-size="18">3</tspan><tspan dy="10">)</tspan></text>
<text x="833.2" y="27.5" font-size="34" text-anchor="start" fill="#111" stroke="#111" stroke-width="0.5" >B</text>
<polyline points="863.0,289.5 949.3,315.2 1120.2,139.3 1177.5,185.7" fill="none" stroke="#333" stroke-width="2"/>
<line x1="1188.5" y1="194.6" x2="1345.1" y2="321.5" stroke="#333" stroke-width="2"/>
<polyline points="863.0,273.4 949.3,302.3 1120.2,121.5 1177.5,168.5" fill="none" stroke="#ff2020" stroke-width="2"/>
<line x1="1188.5" y1="177.5" x2="1345.1" y2="305.8" stroke="#ff2020" stroke-width="2"/>
<line x1="863.0" y1="256.7" x2="863.0" y2="322.3" stroke="#333" stroke-width="2" />
<line x1="858.0" y1="256.7" x2="868.0" y2="256.7" stroke="#333" stroke-width="2" />
<line x1="858.0" y1="322.3" x2="868.0" y2="322.3" stroke="#333" stroke-width="2" />
<line x1="949.3" y1="282.4" x2="949.3" y2="348.0" stroke="#333" stroke-width="2" />
<line x1="944.3" y1="282.4" x2="954.3" y2="282.4" stroke="#333" stroke-width="2" />
<line x1="944.3" y1="348.0" x2="954.3" y2="348.0" stroke="#333" stroke-width="2" />
<line x1="1120.2" y1="106.5" x2="1120.2" y2="172.1" stroke="#333" stroke-width="2" />
<line x1="1115.2" y1="106.5" x2="1125.2" y2="106.5" stroke="#333" stroke-width="2" />
<line x1="1115.2" y1="172.1" x2="1125.2" y2="172.1" stroke="#333" stroke-width="2" />
<line x1="1345.1" y1="288.7" x2="1345.1" y2="354.3" stroke="#333" stroke-width="2" />
<line x1="1340.1" y1="288.7" x2="1350.1" y2="288.7" stroke="#333" stroke-width="2" />
<line x1="1340.1" y1="354.3" x2="1350.1" y2="354.3" stroke="#333" stroke-width="2" />
<circle cx="863.0" cy="289.5" r="6" fill="#000"/>
<circle cx="949.3" cy="315.2" r="6" fill="#000"/>
<circle cx="1120.2" cy="139.3" r="6" fill="#000"/>
<circle cx="1345.1" cy="321.5" r="6" fill="#000"/>
<circle cx="863.0" cy="273.4" r="6" fill="#ff0000"/>
<circle cx="949.3" cy="302.3" r="6" fill="#ff0000"/>
<circle cx="1120.2" cy="121.5" r="6" fill="#ff0000"/>
<circle cx="1345.1" cy="305.8" r="6" fill="#ff0000"/>
<path d="M525.0,644.0 H1092.0 V1101.2 H525.0 Z" fill="none" stroke="#5f5f5f" stroke-width="2.4"/>
<line x1="525.0" y1="1101.2" x2="525.0" y2="1109.7" stroke="#5f5f5f" stroke-width="2.4" />
<text x="525.0" y="1135.5" font-size="24" text-anchor="middle" fill="#2b2b2b" stroke="#2b2b2b" stroke-width="0.5" >0.0</text>
<line x1="581.7" y1="1101.2" x2="581.7" y2="1105.7" stroke="#5f5f5f" stroke-width="2.4" />
<line x1="638.4" y1="1101.2" x2="638.4" y2="1109.7" stroke="#5f5f5f" stroke-width="2.4" />
<text x="638.4" y="1135.5" font-size="24" text-anchor="middle" fill="#2b2b2b" stroke="#2b2b2b" stroke-width="0.5" >0.2</text>
<line x1="695.1" y1="1101.2" x2="695.1" y2="1105.7" stroke="#5f5f5f" stroke-width="2.4" />
<line x1="751.8" y1="1101.2" x2="751.8" y2="1109.7" stroke="#5f5f5f" stroke-width="2.4" />
<text x="751.8" y="1135.5" font-size="24" text-anchor="middle" fill="#2b2b2b" stroke="#2b2b2b" stroke-width="0.5" >0.4</text>
<line x1="808.5" y1="1101.2" x2="808.5" y2="1105.7" stroke="#5f5f5f" stroke-width="2.4" />
<line x1="865.2" y1="1101.2" x2="865.2" y2="1109.7" stroke="#5f5f5f" stroke-width="2.4" />
<text x="865.2" y="1135.5" font-size="24" text-anchor="middle" fill="#2b2b2b" stroke="#2b2b2b" stroke-width="0.5" >0.6</text>
<line x1="921.9" y1="1101.2" x2="921.9" y2="1105.7" stroke="#5f5f5f" stroke-width="2.4" />
<line x1="978.6" y1="1101.2" x2="978.6" y2="1109.7" stroke="#5f5f5f" stroke-width="2.4" />
<text x="978.6" y="1135.5" font-size="24" text-anchor="middle" fill="#2b2b2b" stroke="#2b2b2b" stroke-width="0.5" >0.8</text>
<line x1="1035.3" y1="1101.2" x2="1035.3" y2="1105.7" stroke="#5f5f5f" stroke-width="2.4" />
<line x1="1092.0" y1="1101.2" x2="1092.0" y2="1109.7" stroke="#5f5f5f" stroke-width="2.4" />
<text x="1092.0" y="1135.5" font-size="24" text-anchor="middle" fill="#2b2b2b" stroke="#2b2b2b" stroke-width="0.5" >1.0</text>
<line x1="516.0" y1="1101.2" x2="525.0" y2="1101.2" stroke="#5f5f5f" stroke-width="2.4" />
<text x="509.5" y="1109.4" font-size="24" text-anchor="end" fill="#2b2b2b" stroke="#2b2b2b" stroke-width="0.5" >24</text>
<line x1="520.5" y1="1063.1" x2="525.0" y2="1063.1" stroke="#5f5f5f" stroke-width="2.4" />
<line x1="516.0" y1="1025.0" x2="525.0" y2="1025.0" stroke="#5f5f5f" stroke-width="2.4" />
<text x="509.5" y="1033.2" font-size="24" text-anchor="end" fill="#2b2b2b" stroke="#2b2b2b" stroke-width="0.5" >25</text>
<line x1="520.5" y1="986.9" x2="525.0" y2="986.9" stroke="#5f5f5f" stroke-width="2.4" />
<line x1="516.0" y1="948.8" x2="525.0" y2="948.8" stroke="#5f5f5f" stroke-width="2.4" />
<text x="509.5" y="957.0" font-size="24" text-anchor="end" fill="#2b2b2b" stroke="#2b2b2b" stroke-width="0.5" >26</text>
<line x1="520.5" y1="910.7" x2="525.0" y2="910.7" stroke="#5f5f5f" stroke-width="2.4" />
<line x1="516.0" y1="872.6" x2="525.0" y2="872.6" stroke="#5f5f5f" stroke-width="2.4" />
<text x="509.5" y="880.8" font-size="24" text-anchor="end" fill="#2b2b2b" stroke="#2b2b2b" stroke-width="0.5" >27</text>
<line x1="520.5" y1="834.5" x2="525.0" y2="834.5" stroke="#5f5f5f" stroke-width="2.4" />
<line x1="516.0" y1="796.4" x2="525.0" y2="796.4" stroke="#5f5f5f" stroke-width="2.4" />
<text x="509.5" y="804.6" font-size="24" text-anchor="end" fill="#2b2b2b" stroke="#2b2b2b" stroke-width="0.5" >28</text>
<line x1="520.5" y1="758.3" x2="525.0" y2="758.3" stroke="#5f5f5f" stroke-width="2.4" />
<line x1="516.0" y1="720.2" x2="525.0" y2="720.2" stroke="#5f5f5f" stroke-width="2.4" />
<text x="509.5" y="728.4" font-size="24" text-anchor="end" fill="#2b2b2b" stroke="#2b2b2b" stroke-width="0.5" >29</text>
<line x1="520.5" y1="682.1" x2="525.0" y2="682.1" stroke="#5f5f5f" stroke-width="2.4" />
<line x1="516.0" y1="644.0" x2="525.0" y2="644.0" stroke="#5f5f5f" stroke-width="2.4" />
<text x="509.5" y="652.2" font-size="24" text-anchor="end" fill="#2b2b2b" stroke="#2b2b2b" stroke-width="0.5" >30</text>
<text x="807.5" y="1178.3" font-size="28.5" text-anchor="middle" fill="#2b2b2b" stroke="#2b2b2b" stroke-width="0.5" >CO<tspan dy="7" font-size="19">2</tspan><tspan dy="-7"> loading</tspan></text>
<text transform="translate(466,872) rotate(-90)" font-size="28.5" text-anchor="middle" fill="#2b2b2b" stroke="#2b2b2b" stroke-width="0.5">-Q<tspan dy="7" font-size="18">st</tspan><tspan dy="-7"> (kJ/mol)</tspan></text>
<text x="523.0" y="636.5" font-size="34" text-anchor="start" fill="#111" stroke="#111" stroke-width="0.5" >C</text>
<polyline points="525.5,954.92 527.5,956.66 529.5,958.35 531.5,959.99 533.5,961.60 535.5,963.16 537.5,964.67 539.5,966.15 541.5,967.59 543.5,968.99 545.5,970.36 547.5,971.68 549.5,972.98 551.5,974.23 553.5,975.46 555.5,976.65 557.5,977.81 559.5,978.95 561.5,980.05 563.5,981.12 565.5,982.16 567.5,983.18 569.5,984.17 571.5,985.13 573.5,986.07 575.5,986.99 577.5,987.87 579.5,988.74 581.5,989.58 583.5,990.41 585.5,991.21 587.5,991.99 589.5,992.74 591.5,993.48 593.5,994.20 595.5,994.90 597.5,995.59 599.5,996.25 601.5,996.90 603.5,997.53 605.5,998.14 607.5,998.74 609.5,999.32 611.5,999.89 613.5,1000.44 615.5,1000.98 617.5,1001.50 619.5,1002.01 621.5,1002.51 623.5,1003.00 625.5,1003.47 627.5,1003.93 629.5,1004.38 631.5,1004.81 633.5,1005.24 635.5,1005.65 637.5,1006.05 639.5,1006.45 641.5,1006.83 643.5,1007.20 645.5,1007.57 647.5,1007.92 649.5,1008.27 651.5,1008.60 653.5,1008.93 655.5,1009.25 657.5,1009.56 659.5,1009.87 661.5,1010.16 663.5,1010.45 665.5,1010.73 667.5,1011.00 669.5,1011.27 671.5,1011.53 673.5,1011.78 675.5,1012.03 677.5,1012.27 679.5,1012.51 681.5,1012.74 683.5,1012.96 685.5,1013.18 687.5,1013.39 689.5,1013.60 691.5,1013.80 693.5,1014.00 695.5,1014.19 697.5,1014.37 699.5,1014.56 701.5,1014.73 703.5,1014.91 705.5,1015.08 707.5,1015.24 709.5,1015.40 711.5,1015.56 713.5,1015.72 715.5,1015.87 717.5,1016.01 719.5,1016.15 721.5,1016.29 723.5,1016.43 725.5,1016.56 727.5,1016.69 729.5,1016.82 731.5,1016.94 733.5,1017.06 735.5,1017.18 737.5,1017.29 739.5,1017.40 741.5,1017.51 743.5,1017.62 745.5,1017.72 747.5,1017.83 749.5,1017.93 751.5,1018.02 753.5,1018.12 755.5,1018.21 757.5,1018.30 759.5,1018.39 761.5,1018.48 763.5,1018.56 765.5,1018.64 767.5,1018.72 769.5,1018.80 771.5,1018.88 773.5,1018.96 775.5,1019.03 777.5,1019.10 779.5,1019.17 781.5,1019.24 783.5,1019.31 785.5,1019.37 787.5,1019.44 789.5,1019.50 791.5,1019.56 793.5,1019.62 795.5,1019.68 797.5,1019.74 799.5,1019.80 801.5,1019.85 803.5,1019.91 805.5,1019.96 807.5,1020.01 809.5,1020.06 811.5,1020.11 813.5,1020.16 815.5,1020.21 817.5,1020.26 819.5,1020.30 821.5,1020.35 823.5,1020.39 825.5,1020.44 827.5,1020.48 829.5,1020.52 831.5,1020.56 833.5,1020.60 835.5,1020.64 837.5,1020.68 839.5,1020.72 841.5,1020.76 843.5,1020.79 845.5,1020.83 847.5,1020.86 849.5,1020.90 851.5,1020.93 853.5,1020.97 855.5,1021.00 857.5,1021.03 859.5,1021.06 861.5,1021.09 863.5,1021.12 865.5,1021.15 867.5,1021.18 869.5,1021.21 871.5,1021.24 873.5,1021.27 875.5,1021.30 877.5,1021.32 879.5,1021.35 881.5,1021.37 883.5,1021.40 885.5,1021.43 887.5,1021.45 889.5,1021.48 891.5,1021.50 893.5,1021.52 895.5,1021.55 897.5,1021.57 899.5,1021.59 901.5,1021.62 903.5,1021.64 905.5,1021.66 907.5,1021.68 909.5,1021.70 911.5,1021.72 913.5,1021.74 915.5,1021.76 917.5,1021.78 919.5,1021.80 921.5,1021.82 923.5,1021.84 925.5,1021.86 927.5,1021.88 929.5,1021.90 931.5,1021.92 933.5,1021.93 935.5,1021.95 937.5,1021.97 939.5,1021.99 941.5,1022.00 943.5,1022.02 945.5,1022.04 947.5,1022.05 949.5,1022.07 951.5,1022.09 953.5,1022.10 955.5,1022.12 957.5,1022.13 959.5,1022.15 961.5,1022.16 963.5,1022.18 965.5,1022.19 967.5,1022.21 969.5,1022.22 971.5,1022.24 973.5,1022.25 975.5,1022.27 977.5,1022.28 979.5,1022.30 981.5,1022.31 983.5,1022.32 985.5,1022.34 987.5,1022.35 989.5,1022.36 991.5,1022.38 993.5,1022.39 995.5,1022.40 997.5,1022.41 999.5,1022.43 1001.5,1022.44 1003.5,1022.45 1005.5,1022.46 1007.5,1022.48 1009.5,1022.49 1011.5,1022.50 1013.5,1022.51 1015.5,1022.52 1017.5,1022.54 1019.5,1022.55 1021.5,1022.56 1023.5,1022.57 1025.5,1022.58 1027.5,1022.59 1029.5,1022.61 1031.5,1022.62 1033.5,1022.63 1035.5,1022.64 1037.5,1022.65 1039.5,1022.66 1041.5,1022.67 1043.5,1022.68 1045.5,1022.69 1047.5,1022.70 1049.5,1022.71 1051.5,1022.72 1053.5,1022.73 1055.5,1022.74 1057.5,1022.75 1059.5,1022.76 1061.5,1022.77 1063.5,1022.78 1065.5,1022.79 1067.5,1022.80 1069.5,1022.81 1071.5,1022.82 1073.5,1022.83 1075.5,1022.84 1077.5,1022.85 1079.5,1022.86 1081.5,1022.87 1083.5,1022.88 1085.5,1022.89 1087.5,1022.90 1089.5,1022.91 1091.5,1022.92 1092.0,1022.92" fill="none" stroke="#444" stroke-width="2.3" stroke-linejoin="round"/>
<polyline points="525.5,714.92 527.5,715.31 529.5,715.71 531.5,716.13 533.5,716.57 535.5,717.03 537.5,717.51 539.5,718.01 541.5,718.53 543.5,719.07 545.5,719.63 547.5,720.20 549.5,720.80 551.5,721.41 553.5,722.05 555.5,722.70 557.5,723.37 559.5,724.06 561.5,724.77 563.5,725.49 565.5,726.24 567.5,727.00 569.5,727.79 571.5,728.59 573.5,729.40 575.5,730.24 577.5,731.09 579.5,731.97 581.5,732.85 583.5,733.76 585.5,734.68 587.5,735.63 589.5,736.58 591.5,737.56 593.5,738.55 595.5,739.56 597.5,740.58 599.5,741.62 601.5,742.68 603.5,743.75 605.5,744.83 607.5,745.94 609.5,747.05 611.5,748.19 613.5,749.33 615.5,750.50 617.5,751.67 619.5,752.86 621.5,754.07 623.5,755.29 625.5,756.52 627.5,757.76 629.5,759.02 631.5,760.29 633.5,761.58 635.5,762.87 637.5,764.18 639.5,765.50 641.5,766.83 643.5,768.17 645.5,769.53 647.5,770.89 649.5,772.27 651.5,773.65 653.5,775.05 655.5,776.45 657.5,777.87 659.5,779.29 661.5,780.72 663.5,782.16 665.5,783.61 667.5,785.07 669.5,786.53 671.5,788.00 673.5,789.48 675.5,790.97 677.5,792.46 679.5,793.96 681.5,795.46 683.5,796.97 685.5,798.48 687.5,800.00 689.5,801.53 691.5,803.05 693.5,804.58 695.5,806.12 697.5,807.66 699.5,809.20 701.5,810.74 703.5,812.28 705.5,813.83 707.5,815.38 709.5,816.93 711.5,818.48 713.5,820.03 715.5,821.58 717.5,823.12 719.5,824.67 721.5,826.22 723.5,827.76 725.5,829.31 727.5,830.85 729.5,832.38 731.5,833.92 733.5,835.45 735.5,836.98 737.5,838.50 739.5,840.02 741.5,841.53 743.5,843.04 745.5,844.54 747.5,846.03 749.5,847.52 751.5,849.00 753.5,850.48 755.5,851.94 757.5,853.40 759.5,854.85 761.5,856.29 763.5,857.72 765.5,859.14 767.5,860.55 769.5,861.95 771.5,863.33 773.5,864.71 775.5,866.07 777.5,867.42 779.5,868.76 781.5,870.08 783.5,871.39 785.5,872.69 787.5,873.97 789.5,875.24 791.5,876.49 793.5,877.72 795.5,878.94 797.5,880.14 799.5,881.32 801.5,882.49 803.5,883.63 805.5,884.76 807.5,885.87 809.5,886.96 811.5,888.03 813.5,889.08 815.5,890.11 817.5,891.12 819.5,892.10 821.5,893.06 823.5,894.00 825.5,894.92 827.5,895.81 829.5,896.68 831.5,897.52 833.5,898.34 835.5,899.14 837.5,899.90 839.5,900.65 840.6,901.04" fill="none" stroke="#6363ff" stroke-width="3" stroke-linejoin="round"/>
<line x1="855.4" y1="662.9" x2="908.6" y2="662.9" stroke="#444" stroke-width="2.4" />
<line x1="855.4" y1="692.3" x2="908.6" y2="692.3" stroke="#6363ff" stroke-width="3.2" />
<text x="915.0" y="671.1" font-size="24" text-anchor="start" fill="#2b2b2b" stroke="#2b2b2b" stroke-width="0.5" >Cu-BTC-powder</text>
<text x="915.0" y="700.2" font-size="24" text-anchor="start" fill="#2b2b2b" stroke="#2b2b2b" stroke-width="0.5" >Cu-BTC-mono</text>
</g>
</svg>
</body></html>
